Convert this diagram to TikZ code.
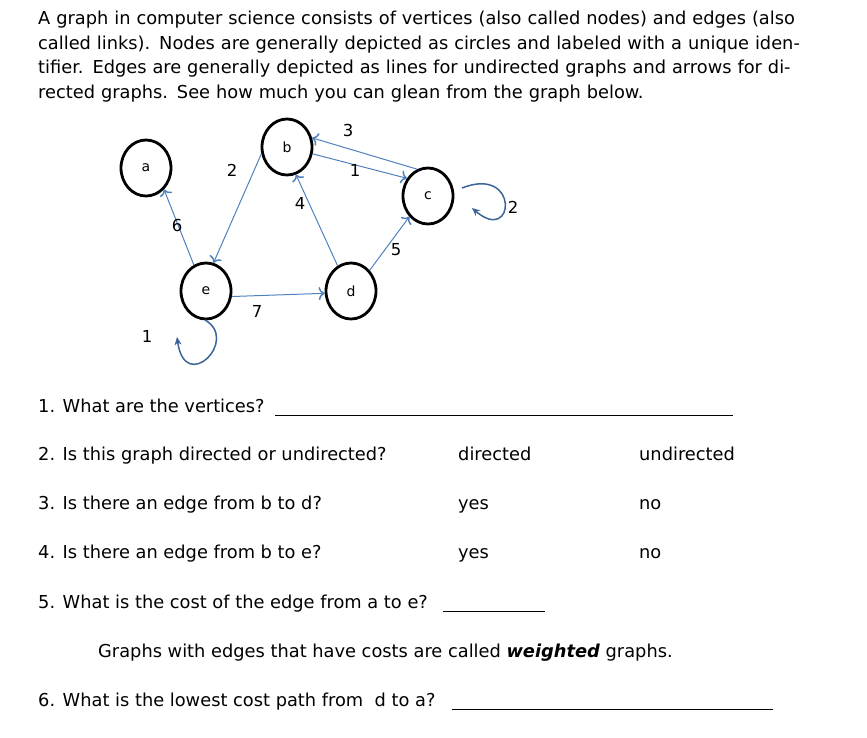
\documentclass[tikz,border=0pt]{standalone}
\usepackage{fontspec}
\setmainfont{DejaVu Sans}
\usetikzlibrary{arrows.meta,shapes.geometric}
\begin{document}
\begin{tikzpicture}[x=1pt,y=-1pt,
  txt/.style={anchor=base west,inner sep=0pt,font=\fontsize{17.8}{24.5}\selectfont},
  vert/.style={draw,line width=2.8pt,ellipse,minimum width=50pt,minimum height=56pt,inner sep=0pt,font=\fontsize{14}{16}\selectfont},
  wt/.style={inner sep=0pt,font=\fontsize{16.5}{18}\selectfont},
  edge/.style={draw={rgb,255:red,79;green,129;blue,189},line width=1pt,-{To[length=6pt,width=13pt,line width=1.5pt]}},
  loopedge/.style={draw={rgb,255:red,60;green,100;blue,150},line width=1.5pt,-{Stealth[length=8pt,width=7pt]}},
  ul/.style={line width=0.9pt}]
\useasboundingbox (0,0) rectangle (867,737);
\node[txt,align=left,anchor=north west,text width=790pt] (intro) at (38,11) {A graph in computer science consists of vertices (also called nodes) and edges (also called links). Nodes are generally depicted as circles and labeled with a unique identifier. Edges are generally depicted as lines for undirected graphs and arrows for directed graphs. See how much you can glean from the graph below.};
\node[vert] (a) at (146,168) {a};
\node[vert] (b) at (287,147) {b};
\node[vert] (c) at (428,196) {c};
\node[vert] (e) at (206,291) {e};
\node[vert] (d) at (351,291) {d};
\draw[edge] (b.-15) -- (c.140);
\draw[edge] (c.112) -- (b.20);
\draw[edge] (b.195) -- (e.75);
\draw[edge] (d.118) -- (b.-72);
\draw[edge] (e.115) -- (a.-50);
\draw[edge] (e.-12) -- (d.185);
\draw[edge] (d.48) -- (c.228);
\draw[loopedge] (462,188) .. controls (520,165) and (515,245) .. (472,208);
\draw[loopedge] (205,320) .. controls (240,340) and (185,395) .. (177,337);
\node[wt] (w3) at (348,130) {3};
\node[wt] (w1) at (355,170) {1};
\node[wt] (w2) at (232,170) {2};
\node[wt] (w4) at (300,203) {4};
\node[wt] (w6) at (177,225) {6};
\node[wt] (w5) at (396,250) {5};
\node[wt] (w7) at (257,311) {7};
\node[wt] (w2c) at (513,207) {2};
\node[wt] (w1e) at (147,336) {1};
\node[txt] (q1) at (38,412) {1. What are the vertices?};
\draw[ul] (275,415) -- (733,415);
\node[txt] (q2) at (38,460) {2. Is this graph directed or undirected?};
\node[txt] (q2a) at (458,460) {directed};
\node[txt] (q2b) at (639,460) {undirected};
\node[txt] (q3) at (38,509) {3. Is there an edge from b to d?};
\node[txt] (q3a) at (458,509) {yes};
\node[txt] (q3b) at (639,509) {no};
\node[txt] (q4) at (38,558) {4. Is there an edge from b to e?};
\node[txt] (q4a) at (458,558) {yes};
\node[txt] (q4b) at (639,558) {no};
\node[txt] (q5) at (38,608) {5. What is the cost of the edge from a to e?};
\draw[ul] (443,611) -- (545,611);
\node[txt] (w) at (98,657) {Graphs with edges that have costs are called \textbf{\textit{weighted}} graphs.};
\node[txt] (q6) at (38,706) {6. What is the lowest cost path from\ \ d to a?};
\draw[ul] (452,709) -- (773,709);
\end{tikzpicture}
\end{document}
